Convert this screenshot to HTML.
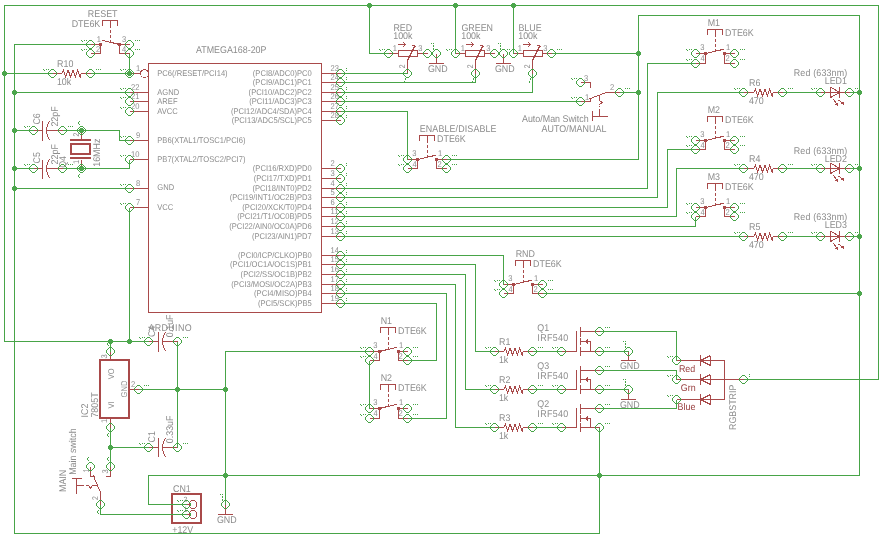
<!DOCTYPE html>
<html><head><meta charset="utf-8"><title>Schematic</title>
<style>
html,body{margin:0;padding:0;background:#fff;}
svg{display:block;font-family:"Liberation Sans",sans-serif;}
</style></head><body>
<svg width="880" height="537" viewBox="0 0 880 537">
<rect width="880" height="537" fill="#fff"/>
<g fill="#8c8c8c" stroke="none" opacity="0.999" style="text-rendering:geometricPrecision">
<text font-size="8.34" transform="translate(157.3 76.1) scale(0.91 1)">PC6(/RESET/PCI14)</text>
<text font-size="8.34" transform="translate(136.0 70.9) scale(0.91 1)">1</text>
<text font-size="8.34" transform="translate(157.3 95.1) scale(0.91 1)">AGND</text>
<text font-size="8.34" transform="translate(131.0 89.9) scale(0.91 1)">22</text>
<text font-size="8.34" transform="translate(157.3 104.1) scale(0.91 1)">AREF</text>
<text font-size="8.34" transform="translate(131.0 98.9) scale(0.91 1)">21</text>
<text font-size="8.34" transform="translate(157.3 114.1) scale(0.91 1)">AVCC</text>
<text font-size="8.34" transform="translate(131.0 108.9) scale(0.91 1)">20</text>
<text font-size="8.34" transform="translate(157.3 143.1) scale(0.91 1)">PB6(XTAL1/TOSC1/PCI6)</text>
<text font-size="8.34" transform="translate(136.0 137.9) scale(0.91 1)">9</text>
<text font-size="8.34" transform="translate(157.3 162.1) scale(0.91 1)">PB7(XTAL2/TOSC2/PCI7)</text>
<text font-size="8.34" transform="translate(131.0 156.9) scale(0.91 1)">10</text>
<text font-size="8.34" transform="translate(157.3 189.9) scale(0.91 1)">GND</text>
<text font-size="8.34" transform="translate(136.0 185.9) scale(0.91 1)">8</text>
<text font-size="8.34" transform="translate(157.3 210.1) scale(0.91 1)">VCC</text>
<text font-size="8.34" transform="translate(136.0 204.9) scale(0.91 1)">7</text>
<text font-size="8.34" transform="translate(311.8 76.1) scale(0.91 1)" text-anchor="end">(PCI8/ADC0)PC0</text>
<text font-size="8.34" transform="translate(330.5 71.1) scale(0.91 1)">23</text>
<text font-size="8.34" transform="translate(311.8 85.1) scale(0.91 1)" text-anchor="end">(PCI9/ADC1)PC1</text>
<text font-size="8.34" transform="translate(330.5 80.1) scale(0.91 1)">24</text>
<text font-size="8.34" transform="translate(311.8 95.1) scale(0.91 1)" text-anchor="end">(PCI10/ADC2)PC2</text>
<text font-size="8.34" transform="translate(330.5 90.1) scale(0.91 1)">25</text>
<text font-size="8.34" transform="translate(311.8 104.1) scale(0.91 1)" text-anchor="end">(PCI11/ADC3)PC3</text>
<text font-size="8.34" transform="translate(330.5 99.1) scale(0.91 1)">26</text>
<text font-size="8.34" transform="translate(311.8 114.1) scale(0.91 1)" text-anchor="end">(PCI12/ADC4/SDA)PC4</text>
<text font-size="8.34" transform="translate(330.5 109.1) scale(0.91 1)">27</text>
<text font-size="8.34" transform="translate(311.8 123.1) scale(0.91 1)" text-anchor="end">(PCI13/ADC5/SCL)PC5</text>
<text font-size="8.34" transform="translate(330.5 118.1) scale(0.91 1)">28</text>
<text font-size="8.34" transform="translate(311.8 171.1) scale(0.91 1)" text-anchor="end">(PCI16/RXD)PD0</text>
<text font-size="8.34" transform="translate(330.5 166.1) scale(0.91 1)">2</text>
<text font-size="8.34" transform="translate(311.8 181.1) scale(0.91 1)" text-anchor="end">(PCI17/TXD)PD1</text>
<text font-size="8.34" transform="translate(330.5 176.1) scale(0.91 1)">3</text>
<text font-size="8.34" transform="translate(311.8 191.1) scale(0.91 1)" text-anchor="end">(PCI18/INT0)PD2</text>
<text font-size="8.34" transform="translate(330.5 186.1) scale(0.91 1)">4</text>
<text font-size="8.34" transform="translate(311.8 200.1) scale(0.91 1)" text-anchor="end">(PCI19/INT1/OC2B)PD3</text>
<text font-size="8.34" transform="translate(330.5 195.1) scale(0.91 1)">5</text>
<text font-size="8.34" transform="translate(311.8 210.1) scale(0.91 1)" text-anchor="end">(PCI20/XCK/T0)PD4</text>
<text font-size="8.34" transform="translate(330.5 205.1) scale(0.91 1)">6</text>
<text font-size="8.34" transform="translate(311.8 219.1) scale(0.91 1)" text-anchor="end">(PCI21/T1/OC0B)PD5</text>
<text font-size="8.34" transform="translate(330.5 214.1) scale(0.91 1)">11</text>
<text font-size="8.34" transform="translate(311.8 229.1) scale(0.91 1)" text-anchor="end">(PCI22/AIN0/OC0A)PD6</text>
<text font-size="8.34" transform="translate(330.5 224.1) scale(0.91 1)">12</text>
<text font-size="8.34" transform="translate(311.8 239.1) scale(0.91 1)" text-anchor="end">(PCI23/AIN1)PD7</text>
<text font-size="8.34" transform="translate(330.5 234.1) scale(0.91 1)">13</text>
<text font-size="8.34" transform="translate(311.8 258.1) scale(0.91 1)" text-anchor="end">(PCI0/ICP/CLKO)PB0</text>
<text font-size="8.34" transform="translate(330.5 253.1) scale(0.91 1)">14</text>
<text font-size="8.34" transform="translate(311.8 267.1) scale(0.91 1)" text-anchor="end">(PCI1/OC1A/OC1S)PB1</text>
<text font-size="8.34" transform="translate(330.5 262.1) scale(0.91 1)">15</text>
<text font-size="8.34" transform="translate(311.8 277.1) scale(0.91 1)" text-anchor="end">(PCI2/SS/OC1B)PB2</text>
<text font-size="8.34" transform="translate(330.5 272.1) scale(0.91 1)">16</text>
<text font-size="8.34" transform="translate(311.8 287.1) scale(0.91 1)" text-anchor="end">(PCI3/MOSI/OC2A)PB3</text>
<text font-size="8.34" transform="translate(330.5 282.1) scale(0.91 1)">17</text>
<text font-size="8.34" transform="translate(311.8 296.1) scale(0.91 1)" text-anchor="end">(PCI4/MISO)PB4</text>
<text font-size="8.34" transform="translate(330.5 291.1) scale(0.91 1)">18</text>
<text font-size="8.34" transform="translate(311.8 306.1) scale(0.91 1)" text-anchor="end">(PCI5/SCK)PB5</text>
<text font-size="8.34" transform="translate(330.5 301.1) scale(0.91 1)">19</text>
<text font-size="9.77" transform="translate(196.0 52.8) scale(0.91 1)">ATMEGA168-20P</text>
<text font-size="9.77" transform="translate(148.4 330.8) scale(0.91 1)" letter-spacing="0.42">ARDUINO</text>
<text font-size="9.77" transform="translate(117.5 17.1) scale(0.91 1)" text-anchor="end">RESET</text>
<text font-size="9.77" transform="translate(100.3 27.1) scale(0.91 1)" text-anchor="end">DTE6K</text>
<text font-size="8.34" transform="translate(96.7 41.7) scale(0.91 1)">1</text>
<text font-size="8.34" transform="translate(96.1 52.1) scale(0.91 1)">2</text>
<text font-size="8.34" transform="translate(121.9 41.7) scale(0.91 1)">3</text>
<text font-size="8.34" transform="translate(121.9 52.1) scale(0.91 1)">4</text>
<text font-size="9.77" transform="translate(57.1 66.7) scale(0.91 1)">R10</text>
<text font-size="9.77" transform="translate(56.9 85.3) scale(0.91 1)">10k</text>
<text font-size="9.77" transform="translate(39.8 124.6) rotate(-90) scale(0.91 1)">C6</text>
<text font-size="9.77" transform="translate(58.1 126.6) rotate(-90) scale(0.91 1)">22pF</text>
<text font-size="9.77" transform="translate(39.8 163.4) rotate(-90) scale(0.91 1)">C5</text>
<text font-size="9.77" transform="translate(58.1 164.4) rotate(-90) scale(0.91 1)">22pF</text>
<text font-size="8.34" transform="translate(78.6 136.8) rotate(-90) scale(0.91 1)">2</text>
<text font-size="8.34" transform="translate(78.6 164.0) rotate(-90) scale(0.91 1)">1</text>
<text font-size="9.77" transform="translate(99.8 166.8) rotate(-90) scale(0.91 1)">16MHz</text>
<text font-size="9.77" transform="translate(66.0 167.8) rotate(-90) scale(0.91 1)">Q4</text>
<text font-size="9.77" transform="translate(154.8 337.0) rotate(-90) scale(0.91 1)">C4</text>
<text font-size="9.77" transform="translate(173.1 337.2) rotate(-90) scale(0.91 1)">0.1uF</text>
<text font-size="8.34" transform="translate(113.6 379.2) rotate(-90) scale(0.91 1)">VO</text>
<text font-size="8.34" transform="translate(113.6 408.6) rotate(-90) scale(0.91 1)">VI</text>
<text font-size="8.34" transform="translate(127.0 397.4) rotate(-90) scale(0.91 1)">GND</text>
<text font-size="9.77" transform="translate(88.0 417.4) rotate(-90) scale(0.91 1)">IC2</text>
<text font-size="9.77" transform="translate(97.6 417.6) rotate(-90) scale(0.91 1)">7805T</text>
<text font-size="8.34" transform="translate(107.4 358.6) rotate(-90) scale(0.91 1)">3</text>
<text font-size="8.34" transform="translate(107.4 423.0) rotate(-90) scale(0.91 1)">1</text>
<text font-size="8.34" transform="translate(131.0 387.2) scale(0.91 1)">2</text>
<text font-size="9.77" transform="translate(154.8 442.4) rotate(-90) scale(0.91 1)">C1</text>
<text font-size="9.77" transform="translate(173.1 443.2) rotate(-90) scale(0.91 1)">0.33uF</text>
<text font-size="9.77" transform="translate(65.8 492.0) rotate(-90) scale(0.91 1)">MAIN</text>
<text font-size="9.77" transform="translate(76.0 474.8) rotate(-90) scale(0.91 1)">Main switch</text>
<text font-size="8.34" transform="translate(89.4 472.4) rotate(-90) scale(0.91 1)">1</text>
<text font-size="8.34" transform="translate(98.2 500.2) rotate(-90) scale(0.91 1)">2</text>
<text font-size="8.34" transform="translate(107.6 473.6) rotate(-90) scale(0.91 1)">3</text>
<text font-size="9.77" transform="translate(173.0 491.7) scale(0.91 1)">CN1</text>
<text font-size="9.77" transform="translate(172.2 532.5) scale(0.91 1)">+12V</text>
<text font-size="7.69" transform="translate(183.4 501.8) scale(0.91 1)">2</text>
<text font-size="7.69" transform="translate(183.4 512.0) scale(0.91 1)">1</text>
<text font-size="9.77" transform="translate(216.9 522.7) scale(0.91 1)">GND</text>
<text font-size="9.77" transform="translate(380.7 324.3) scale(0.91 1)">N1</text>
<text font-size="9.77" transform="translate(398.1 334.3) scale(0.91 1)">DTE6K</text>
<text font-size="8.34" transform="translate(373.2 348.3) scale(0.91 1)">3</text>
<text font-size="8.34" transform="translate(373.5 359.3) scale(0.91 1)">4</text>
<text font-size="8.34" transform="translate(399.1 348.3) scale(0.91 1)">1</text>
<text font-size="8.34" transform="translate(398.5 359.3) scale(0.91 1)">2</text>
<text font-size="9.77" transform="translate(380.7 381.3) scale(0.91 1)">N2</text>
<text font-size="9.77" transform="translate(398.1 391.3) scale(0.91 1)">DTE6K</text>
<text font-size="8.34" transform="translate(373.2 405.3) scale(0.91 1)">3</text>
<text font-size="8.34" transform="translate(373.5 416.3) scale(0.91 1)">4</text>
<text font-size="8.34" transform="translate(399.1 405.3) scale(0.91 1)">1</text>
<text font-size="8.34" transform="translate(398.5 416.3) scale(0.91 1)">2</text>
<text font-size="9.77" transform="translate(515.7 257.3) scale(0.91 1)">RND</text>
<text font-size="9.77" transform="translate(533.1 267.3) scale(0.91 1)">DTE6K</text>
<text font-size="8.34" transform="translate(508.2 281.3) scale(0.91 1)">3</text>
<text font-size="8.34" transform="translate(508.5 292.3) scale(0.91 1)">4</text>
<text font-size="8.34" transform="translate(534.1 281.3) scale(0.91 1)">1</text>
<text font-size="8.34" transform="translate(533.5 292.3) scale(0.91 1)">2</text>
<text font-size="9.77" transform="translate(499.1 344.7) scale(0.91 1)">R1</text>
<text font-size="9.77" transform="translate(498.9 363.3) scale(0.91 1)">1k</text>
<text font-size="9.77" transform="translate(537.3 331.0) scale(0.91 1)">Q1</text>
<text font-size="9.77" transform="translate(537.3 341.1) scale(0.91 1)" letter-spacing="0.4">IRF540</text>
<text font-size="9.77" transform="translate(499.1 382.7) scale(0.91 1)">R2</text>
<text font-size="9.77" transform="translate(498.9 401.3) scale(0.91 1)">1k</text>
<text font-size="9.77" transform="translate(537.3 369.0) scale(0.91 1)">Q3</text>
<text font-size="9.77" transform="translate(537.3 379.1) scale(0.91 1)" letter-spacing="0.4">IRF540</text>
<text font-size="9.77" transform="translate(499.1 420.7) scale(0.91 1)">R3</text>
<text font-size="9.77" transform="translate(498.9 439.3) scale(0.91 1)">1k</text>
<text font-size="9.77" transform="translate(537.3 407.0) scale(0.91 1)">Q2</text>
<text font-size="9.77" transform="translate(537.3 417.1) scale(0.91 1)" letter-spacing="0.4">IRF540</text>
<text font-size="9.77" transform="translate(619.9 368.7) scale(0.91 1)">GND</text>
<text font-size="9.77" transform="translate(619.9 407.7) scale(0.91 1)">GND</text>
<text font-size="9.77" transform="translate(678.9 371.5) scale(0.91 1)" fill="#963c3c">Red</text>
<text font-size="9.77" transform="translate(680.8 390.5) scale(0.91 1)" fill="#963c3c">Grn</text>
<text font-size="9.77" transform="translate(677.6 409.9) scale(0.91 1)" fill="#963c3c">Blue</text>
<text font-size="9.77" transform="translate(736.0 430.0) rotate(-90) scale(0.91 1)">RGBSTRIP</text>
<text font-size="9.77" transform="translate(393.4 30.5) scale(0.91 1)">RED</text>
<text font-size="9.77" transform="translate(393.2 38.5) scale(0.91 1)">100k</text>
<text font-size="8.34" transform="translate(392.7 51.4) scale(0.91 1)">1</text>
<text font-size="8.34" transform="translate(418.3 51.4) scale(0.91 1)">3</text>
<text font-size="8.34" transform="translate(405.3 68.5) rotate(-90) scale(0.91 1)">2</text>
<text font-size="9.77" transform="translate(461.4 30.5) scale(0.91 1)">GREEN</text>
<text font-size="9.77" transform="translate(461.2 38.5) scale(0.91 1)">100k</text>
<text font-size="8.34" transform="translate(460.7 51.4) scale(0.91 1)">1</text>
<text font-size="8.34" transform="translate(486.3 51.4) scale(0.91 1)">3</text>
<text font-size="8.34" transform="translate(473.3 68.5) rotate(-90) scale(0.91 1)">2</text>
<text font-size="9.77" transform="translate(518.4 30.5) scale(0.91 1)">BLUE</text>
<text font-size="9.77" transform="translate(518.2 38.5) scale(0.91 1)">100k</text>
<text font-size="8.34" transform="translate(517.7 51.4) scale(0.91 1)">1</text>
<text font-size="8.34" transform="translate(543.3 51.4) scale(0.91 1)">3</text>
<text font-size="8.34" transform="translate(530.3 68.5) rotate(-90) scale(0.91 1)">2</text>
<text font-size="9.77" transform="translate(427.9 71.7) scale(0.91 1)">GND</text>
<text font-size="9.77" transform="translate(494.9 71.7) scale(0.91 1)">GND</text>
<text font-size="9.77" transform="translate(419.7 132.3) scale(0.91 1)" letter-spacing="0.15">ENABLE/DISABLE</text>
<text font-size="9.77" transform="translate(437.1 142.3) scale(0.91 1)">DTE6K</text>
<text font-size="8.34" transform="translate(412.2 156.3) scale(0.91 1)">3</text>
<text font-size="8.34" transform="translate(412.5 167.3) scale(0.91 1)">4</text>
<text font-size="8.34" transform="translate(438.1 156.3) scale(0.91 1)">1</text>
<text font-size="8.34" transform="translate(437.5 167.3) scale(0.91 1)">2</text>
<text font-size="9.77" transform="translate(522.0 122.4) scale(0.91 1)">Auto/Man Switch</text>
<text font-size="9.77" transform="translate(541.4 131.5) scale(0.91 1)" letter-spacing="0.12">AUTO/MANUAL</text>
<text font-size="8.34" transform="translate(584.0 81.2) scale(0.91 1)">3</text>
<text font-size="8.34" transform="translate(585.0 100.1) scale(0.91 1)">1</text>
<text font-size="8.34" transform="translate(610.0 90.0) scale(0.91 1)">2</text>
<text font-size="9.77" transform="translate(707.7 26.3) scale(0.91 1)">M1</text>
<text font-size="9.77" transform="translate(725.1 36.3) scale(0.91 1)">DTE6K</text>
<text font-size="8.34" transform="translate(700.2 50.3) scale(0.91 1)">3</text>
<text font-size="8.34" transform="translate(700.5 61.3) scale(0.91 1)">4</text>
<text font-size="8.34" transform="translate(726.1 50.3) scale(0.91 1)">1</text>
<text font-size="8.34" transform="translate(725.5 61.3) scale(0.91 1)">2</text>
<text font-size="9.77" transform="translate(749.1 85.7) scale(0.91 1)">R6</text>
<text font-size="9.77" transform="translate(748.9 104.3) scale(0.91 1)">470</text>
<text font-size="9.77" transform="translate(793.8 75.9) scale(0.91 1)" letter-spacing="0.17">Red (633nm)</text>
<text font-size="9.77" transform="translate(824.7 84.2) scale(0.91 1)">LED1</text>
<text font-size="9.77" transform="translate(707.7 113.3) scale(0.91 1)">M2</text>
<text font-size="9.77" transform="translate(725.1 123.3) scale(0.91 1)">DTE6K</text>
<text font-size="8.34" transform="translate(700.2 137.3) scale(0.91 1)">3</text>
<text font-size="8.34" transform="translate(700.5 148.3) scale(0.91 1)">4</text>
<text font-size="8.34" transform="translate(726.1 137.3) scale(0.91 1)">1</text>
<text font-size="8.34" transform="translate(725.5 148.3) scale(0.91 1)">2</text>
<text font-size="9.77" transform="translate(749.1 161.7) scale(0.91 1)">R4</text>
<text font-size="9.77" transform="translate(748.9 180.3) scale(0.91 1)">470</text>
<text font-size="9.77" transform="translate(793.8 153.5) scale(0.91 1)" letter-spacing="0.17">Red (633nm)</text>
<text font-size="9.77" transform="translate(824.7 161.8) scale(0.91 1)">LED2</text>
<text font-size="9.77" transform="translate(707.7 180.3) scale(0.91 1)">M3</text>
<text font-size="9.77" transform="translate(725.1 190.3) scale(0.91 1)">DTE6K</text>
<text font-size="8.34" transform="translate(700.2 204.3) scale(0.91 1)">3</text>
<text font-size="8.34" transform="translate(700.5 215.3) scale(0.91 1)">4</text>
<text font-size="8.34" transform="translate(726.1 204.3) scale(0.91 1)">1</text>
<text font-size="8.34" transform="translate(725.5 215.3) scale(0.91 1)">2</text>
<text font-size="9.77" transform="translate(749.1 229.7) scale(0.91 1)">R5</text>
<text font-size="9.77" transform="translate(748.9 248.3) scale(0.91 1)">470</text>
<text font-size="9.77" transform="translate(793.8 219.9) scale(0.91 1)" letter-spacing="0.17">Red (633nm)</text>
<text font-size="9.77" transform="translate(824.7 228.2) scale(0.91 1)">LED3</text>
</g>
<g shape-rendering="crispEdges">
<g fill="none" stroke="#a94a4a" stroke-width="1" stroke-linejoin="miter">
<rect x="148.5" y="63.5" width="173.00" height="249.00" fill="none"/>
<path d="M129.50 73.50L140.00 73.50"/>
<circle cx="144.50" cy="73.5" r="4" fill="none"/>
<path d="M129.50 92.50L148.50 92.50"/>
<path d="M129.50 101.50L148.50 101.50"/>
<path d="M129.50 111.50L148.50 111.50"/>
<path d="M129.50 140.50L148.50 140.50"/>
<path d="M129.50 159.50L148.50 159.50"/>
<path d="M129.50 188.50L148.50 188.50"/>
<path d="M129.50 207.50L148.50 207.50"/>
<path d="M321.50 73.50L340.50 73.50"/>
<path d="M321.50 82.50L340.50 82.50"/>
<path d="M321.50 92.50L340.50 92.50"/>
<path d="M321.50 101.50L340.50 101.50"/>
<path d="M321.50 111.50L340.50 111.50"/>
<path d="M321.50 120.50L340.50 120.50"/>
<path d="M321.50 168.50L340.50 168.50"/>
<path d="M321.50 178.50L340.50 178.50"/>
<path d="M321.50 188.50L340.50 188.50"/>
<path d="M321.50 197.50L340.50 197.50"/>
<path d="M321.50 207.50L340.50 207.50"/>
<path d="M321.50 216.50L340.50 216.50"/>
<path d="M321.50 226.50L340.50 226.50"/>
<path d="M321.50 236.50L340.50 236.50"/>
<path d="M321.50 255.50L340.50 255.50"/>
<path d="M321.50 264.50L340.50 264.50"/>
<path d="M321.50 274.50L340.50 274.50"/>
<path d="M321.50 284.50L340.50 284.50"/>
<path d="M321.50 293.50L340.50 293.50"/>
<path d="M321.50 303.50L340.50 303.50"/>
<path d="M90.50 44.50 L100.50 44.50 L100.50 53.50 L90.50 53.50" />
<rect x="99.0" y="43.0" width="3" height="3" fill="#a94a4a" stroke="none"/>
<path d="M129.50 44.50 L119.50 44.50 L119.50 53.50 L129.50 53.50" />
<rect x="118.0" y="43.0" width="3" height="3" fill="#a94a4a" stroke="none"/>
<path d="M119.50 44.50L102.50 40.30"/>
<path d="M102.50 25.50 L102.50 20.50 L117.50 20.50 L117.50 25.50" />
<path d="M110.50 20.50L110.50 28.00"/>
<path d="M110.50 29.50L110.50 42.00" stroke-dasharray="3.5 1.5"/>
<path d="M52.50 73.50 L61.90 73.50 L63.34 69.99 L65.74 77.01 L68.14 69.99 L70.54 77.01 L72.94 69.99 L75.34 77.01 L77.74 69.99 L80.14 77.01 L81.10 73.50 L90.50 73.50" />
<path d="M33.50 130.50L42.50 130.50"/>
<path d="M42.50 120.50L42.50 140.50"/>
<path d="M49.50 121.00Q43.30 130.50 49.50 140.00" />
<path d="M46.50 130.50L62.50 130.50"/>
<path d="M33.50 168.50L42.50 168.50"/>
<path d="M42.50 159.50L42.50 178.50"/>
<path d="M49.50 159.00Q43.30 168.50 49.50 178.00" />
<path d="M46.50 168.50L62.50 168.50"/>
<path d="M81.50 130.50L81.50 140.50"/>
<path d="M81.50 159.50L81.50 168.50"/>
<path d="M70.0 140.0H91.0M70.0 158.0H91.0" stroke-width="2"/>
<rect x="71.0" y="144.0" width="19" height="10" fill="none" stroke-width="2"/>
<path d="M148.50 341.50L158.50 341.50"/>
<path d="M158.50 331.50L158.50 351.50"/>
<path d="M165.50 332.00Q159.30 341.50 165.50 351.00" />
<path d="M162.50 341.50L177.50 341.50"/>
<path d="M110.50 351.50L110.50 360.50"/>
<path d="M110.50 418.50L110.50 427.50"/>
<path d="M129.50 389.50L138.50 389.50"/>
<path d="M148.50 447.50L158.50 447.50"/>
<path d="M158.50 437.50L158.50 456.50"/>
<path d="M165.50 438.00Q159.30 447.50 165.50 457.00" />
<path d="M162.50 447.50L177.50 447.50"/>
<path d="M110.50 466.50 L110.50 476.50 L105.50 476.50" />
<path d="M90.50 466.50 L90.50 476.50 L94.50 476.50" />
<path d="M93.00 475.00 L100.50 492.50 L100.50 504.50" />
<path d="M98.00 485.50 L93.00 485.50" />
<path d="M92.50 485.50 L90.50 488.00 L88.50 485.50" />
<path d="M87.50 485.50 L86.00 485.50" />
<path d="M84.00 485.50 L76.50 485.50" />
<path d="M76.50 478.50 L76.50 494.00" />
<path d="M82.00 478.50 L72.00 478.50" />
<circle cx="193.00" cy="504.5" r="4" fill="none"/>
<path d="M186.50 504.50L189.90 504.50"/>
<circle cx="193.00" cy="514.5" r="4" fill="none"/>
<path d="M186.50 514.50L189.90 514.50"/>
<path d="M225.50 504.50L225.50 514.50"/>
<path d="M218.00 514.50L233.00 514.50"/>
<path d="M369.50 351.50 L379.50 351.50 L379.50 360.50 L369.50 360.50" />
<rect x="378.0" y="350.0" width="3" height="3" fill="#a94a4a" stroke="none"/>
<path d="M407.50 351.50 L398.50 351.50 L398.50 360.50 L407.50 360.50" />
<rect x="397.0" y="350.0" width="3" height="3" fill="#a94a4a" stroke="none"/>
<path d="M379.50 351.50L396.50 347.30"/>
<path d="M380.50 332.50 L380.50 327.50 L395.50 327.50 L395.50 332.50" />
<path d="M388.50 327.50L388.50 335.00"/>
<path d="M388.50 336.50L388.50 349.00" stroke-dasharray="3.5 1.5"/>
<path d="M369.50 408.50 L379.50 408.50 L379.50 418.50 L369.50 418.50" />
<rect x="378.0" y="407.0" width="3" height="3" fill="#a94a4a" stroke="none"/>
<path d="M407.50 408.50 L398.50 408.50 L398.50 418.50 L407.50 418.50" />
<rect x="397.0" y="407.0" width="3" height="3" fill="#a94a4a" stroke="none"/>
<path d="M379.50 408.50L396.50 404.30"/>
<path d="M380.50 389.50 L380.50 384.50 L395.50 384.50 L395.50 389.50" />
<path d="M388.50 384.50L388.50 392.00"/>
<path d="M388.50 393.50L388.50 406.00" stroke-dasharray="3.5 1.5"/>
<path d="M503.50 284.50 L513.50 284.50 L513.50 293.50 L503.50 293.50" />
<rect x="512.0" y="283.0" width="3" height="3" fill="#a94a4a" stroke="none"/>
<path d="M542.50 284.50 L532.50 284.50 L532.50 293.50 L542.50 293.50" />
<rect x="531.0" y="283.0" width="3" height="3" fill="#a94a4a" stroke="none"/>
<path d="M513.50 284.50L531.50 280.30"/>
<path d="M515.50 265.50 L515.50 260.50 L530.50 260.50 L530.50 265.50" />
<path d="M523.50 260.50L523.50 268.00"/>
<path d="M523.50 269.50L523.50 282.00" stroke-dasharray="3.5 1.5"/>
<path d="M494.50 351.50 L503.90 351.50 L505.34 347.99 L507.74 355.01 L510.14 347.99 L512.54 355.01 L514.94 347.99 L517.34 355.01 L519.74 347.99 L522.14 355.01 L523.10 351.50 L532.50 351.50" />
<path d="M561.50 351.50L576.50 351.50"/>
<path d="M576.50 331.00L576.50 352.00"/>
<path d="M580.50 327.00L580.50 336.50"/>
<path d="M580.50 338.00L580.50 345.00"/>
<path d="M580.50 347.00L580.50 356.00"/>
<path d="M580.50 331.50L599.50 331.50"/>
<path d="M580.50 351.50L599.50 351.50"/>
<path d="M580.50 341.50 L590.50 341.50 L590.50 351.50" />
<path d="M584.50 341.50L588.00 339.00L588.00 344.00Z" fill="#a94a4a" stroke="none"/>
<path d="M494.50 389.50 L503.90 389.50 L505.34 385.99 L507.74 393.01 L510.14 385.99 L512.54 393.01 L514.94 385.99 L517.34 393.01 L519.74 385.99 L522.14 393.01 L523.10 389.50 L532.50 389.50" />
<path d="M561.50 389.50L576.50 389.50"/>
<path d="M576.50 370.00L576.50 390.00"/>
<path d="M580.50 366.00L580.50 375.50"/>
<path d="M580.50 376.00L580.50 383.00"/>
<path d="M580.50 385.00L580.50 394.00"/>
<path d="M580.50 370.50L599.50 370.50"/>
<path d="M580.50 389.50L599.50 389.50"/>
<path d="M580.50 379.50 L590.50 379.50 L590.50 389.50" />
<path d="M584.50 379.50L588.00 377.00L588.00 382.00Z" fill="#a94a4a" stroke="none"/>
<path d="M494.50 427.50 L503.90 427.50 L505.34 423.99 L507.74 431.01 L510.14 423.99 L512.54 431.01 L514.94 423.99 L517.34 431.01 L519.74 423.99 L522.14 431.01 L523.10 427.50 L532.50 427.50" />
<path d="M561.50 427.50L576.50 427.50"/>
<path d="M576.50 408.00L576.50 428.00"/>
<path d="M580.50 404.00L580.50 413.50"/>
<path d="M580.50 415.00L580.50 422.00"/>
<path d="M580.50 423.00L580.50 432.00"/>
<path d="M580.50 408.50L599.50 408.50"/>
<path d="M580.50 427.50L599.50 427.50"/>
<path d="M580.50 418.50 L590.50 418.50 L590.50 427.50" />
<path d="M584.50 418.50L588.00 416.00L588.00 421.00Z" fill="#a94a4a" stroke="none"/>
<path d="M628.50 351.50L628.50 360.50"/>
<path d="M621.00 360.50L636.00 360.50"/>
<path d="M628.50 389.50L628.50 399.50"/>
<path d="M621.00 399.50L636.00 399.50"/>
<path d="M676.50 360.50L724.50 360.50"/>
<path d="M710.50 355.50 L700.50 360.50 L710.50 365.50 L710.50 355.50" />
<path d="M700.50 355.00L700.50 366.00"/>
<path d="M676.50 379.50L743.50 379.50"/>
<path d="M710.50 374.50 L700.50 379.50 L710.50 384.50 L710.50 374.50" />
<path d="M700.50 374.00L700.50 385.00"/>
<path d="M676.50 399.50L724.50 399.50"/>
<path d="M710.50 394.50 L700.50 399.50 L710.50 404.50 L710.50 394.50" />
<path d="M700.50 394.00L700.50 405.00"/>
<path d="M724.50 360.50L724.50 399.50"/>
<path d="M388.50 53.50L398.50 53.50"/>
<path d="M417.50 53.50L427.50 53.50"/>
<rect x="398.50" y="50.50" width="19.00" height="6" fill="none"/>
<path d="M407.50 73.50 L407.50 60.50 L414.50 46.50" />
<path d="M412.00 45.50 L414.50 46.00 L416.50 47.50" />
<path d="M397.50 44.50L406.00 44.50"/>
<path d="M403.00 42.00 L405.50 44.50 L403.00 47.00" />
<path d="M455.50 53.50L465.50 53.50"/>
<path d="M484.50 53.50L494.50 53.50"/>
<rect x="465.50" y="50.50" width="19.00" height="6" fill="none"/>
<path d="M475.50 73.50 L475.50 60.50 L482.50 46.50" />
<path d="M480.00 45.50 L482.50 46.00 L484.50 47.50" />
<path d="M465.50 44.50L474.00 44.50"/>
<path d="M471.00 42.00 L473.50 44.50 L471.00 47.00" />
<path d="M513.50 53.50L523.50 53.50"/>
<path d="M542.50 53.50L551.50 53.50"/>
<rect x="523.50" y="50.50" width="19.00" height="6" fill="none"/>
<path d="M532.50 73.50 L532.50 60.50 L539.50 46.50" />
<path d="M537.00 45.50 L539.50 46.00 L541.50 47.50" />
<path d="M522.50 44.50L531.00 44.50"/>
<path d="M528.00 42.00 L530.50 44.50 L528.00 47.00" />
<path d="M436.50 53.50L436.50 63.50"/>
<path d="M429.00 63.50L444.00 63.50"/>
<path d="M503.50 53.50L503.50 63.50"/>
<path d="M496.00 63.50L511.00 63.50"/>
<path d="M407.50 159.50 L417.50 159.50 L417.50 168.50 L407.50 168.50" />
<rect x="416.0" y="158.0" width="3" height="3" fill="#a94a4a" stroke="none"/>
<path d="M446.50 159.50 L436.50 159.50 L436.50 168.50 L446.50 168.50" />
<rect x="435.0" y="158.0" width="3" height="3" fill="#a94a4a" stroke="none"/>
<path d="M417.50 159.50L435.50 155.30"/>
<path d="M419.50 140.50 L419.50 135.50 L434.50 135.50 L434.50 140.50" />
<path d="M427.50 135.50L427.50 143.00"/>
<path d="M427.50 144.50L427.50 157.00" stroke-dasharray="3.5 1.5"/>
<path d="M580.50 82.50 L590.50 82.50 L590.50 87.50" />
<path d="M580.50 101.50 L590.50 101.50 L590.50 97.50" />
<path d="M589.00 99.00 L606.50 92.50 L619.50 92.50" />
<path d="M599.50 95.00 L599.50 100.00" />
<path d="M599.50 100.50 L602.00 102.50 L599.50 104.50" />
<path d="M599.50 105.50 L599.50 107.00" />
<path d="M599.50 109.00 L599.50 116.50" />
<path d="M592.50 116.50 L608.00 116.50" />
<path d="M592.50 111.00 L592.50 121.00" />
<path d="M695.50 53.50 L705.50 53.50 L705.50 63.50 L695.50 63.50" />
<rect x="704.0" y="52.0" width="3" height="3" fill="#a94a4a" stroke="none"/>
<path d="M734.50 53.50 L724.50 53.50 L724.50 63.50 L734.50 63.50" />
<rect x="723.0" y="52.0" width="3" height="3" fill="#a94a4a" stroke="none"/>
<path d="M705.50 53.50L723.50 49.30"/>
<path d="M707.50 34.50 L707.50 29.50 L722.50 29.50 L722.50 34.50" />
<path d="M715.50 29.50L715.50 37.00"/>
<path d="M715.50 38.50L715.50 51.00" stroke-dasharray="3.5 1.5"/>
<path d="M743.50 92.50 L753.90 92.50 L755.34 88.99 L757.74 96.01 L760.14 88.99 L762.54 96.01 L764.94 88.99 L767.34 96.01 L769.74 88.99 L772.14 96.01 L773.10 92.50 L782.50 92.50" />
<path d="M820.50 92.50L849.50 92.50"/>
<path d="M830.50 87.00 L839.50 92.50 L830.50 97.50 L830.50 87.00" />
<path d="M839.50 86.50L839.50 98.00"/>
<path d="M833.50 99.50L838.00 105.50"/>
<path d="M838.50 106.00L834.50 104.50L837.00 102.00Z" fill="#a94a4a" stroke="none"/>
<path d="M838.50 100.00L844.00 104.50"/>
<path d="M844.50 105.00L840.50 103.50L843.00 101.00Z" fill="#a94a4a" stroke="none"/>
<path d="M695.50 140.50 L705.50 140.50 L705.50 149.50 L695.50 149.50" />
<rect x="704.0" y="139.0" width="3" height="3" fill="#a94a4a" stroke="none"/>
<path d="M734.50 140.50 L724.50 140.50 L724.50 149.50 L734.50 149.50" />
<rect x="723.0" y="139.0" width="3" height="3" fill="#a94a4a" stroke="none"/>
<path d="M705.50 140.50L723.50 136.30"/>
<path d="M707.50 121.50 L707.50 116.50 L722.50 116.50 L722.50 121.50" />
<path d="M715.50 116.50L715.50 124.00"/>
<path d="M715.50 125.50L715.50 138.00" stroke-dasharray="3.5 1.5"/>
<path d="M743.50 168.50 L753.90 168.50 L755.34 164.99 L757.74 172.01 L760.14 164.99 L762.54 172.01 L764.94 164.99 L767.34 172.01 L769.74 164.99 L772.14 172.01 L773.10 168.50 L782.50 168.50" />
<path d="M820.50 168.50L849.50 168.50"/>
<path d="M830.50 163.00 L839.50 168.50 L830.50 173.50 L830.50 163.00" />
<path d="M839.50 162.50L839.50 174.00"/>
<path d="M833.50 175.50L838.00 181.50"/>
<path d="M838.50 182.00L834.50 180.50L837.00 178.00Z" fill="#a94a4a" stroke="none"/>
<path d="M838.50 176.00L844.00 180.50"/>
<path d="M844.50 181.00L840.50 179.50L843.00 177.00Z" fill="#a94a4a" stroke="none"/>
<path d="M695.50 207.50 L705.50 207.50 L705.50 216.50 L695.50 216.50" />
<rect x="704.0" y="206.0" width="3" height="3" fill="#a94a4a" stroke="none"/>
<path d="M734.50 207.50 L724.50 207.50 L724.50 216.50 L734.50 216.50" />
<rect x="723.0" y="206.0" width="3" height="3" fill="#a94a4a" stroke="none"/>
<path d="M705.50 207.50L723.50 203.30"/>
<path d="M707.50 188.50 L707.50 183.50 L722.50 183.50 L722.50 188.50" />
<path d="M715.50 183.50L715.50 191.00"/>
<path d="M715.50 192.50L715.50 205.00" stroke-dasharray="3.5 1.5"/>
<path d="M743.50 236.50 L753.90 236.50 L755.34 232.99 L757.74 240.01 L760.14 232.99 L762.54 240.01 L764.94 232.99 L767.34 240.01 L769.74 232.99 L772.14 240.01 L773.10 236.50 L782.50 236.50" />
<path d="M820.50 236.50L849.50 236.50"/>
<path d="M830.50 231.00 L839.50 236.50 L830.50 241.50 L830.50 231.00" />
<path d="M839.50 230.50L839.50 242.00"/>
<path d="M833.50 243.50L838.00 249.50"/>
<path d="M838.50 250.00L834.50 248.50L837.00 246.00Z" fill="#a94a4a" stroke="none"/>
<path d="M838.50 244.00L844.00 248.50"/>
<path d="M844.50 249.00L840.50 247.50L843.00 245.00Z" fill="#a94a4a" stroke="none"/>
</g>
<g fill="none" stroke="#a94a4a" stroke-width="2" stroke-linecap="square">
<rect x="100.0" y="360.0" width="29.00" height="58.00" fill="none"/>
<rect x="172.0" y="494.00" width="29" height="29" fill="none"/>
</g>
<g fill="none" stroke="#47a447" stroke-width="1" stroke-linejoin="miter">
<path d="M4.5 341.5 L4.5 5.5 L878.5 5.5 L878.5 379.5 L743.5 379.5"/>
<path d="M4.5 341.5 L148.5 341.5"/>
<path d="M369.5 5.5 L369.5 53.5 L388.5 53.5"/>
<path d="M455.5 5.5 L455.5 53.5"/>
<path d="M513.5 5.5 L513.5 53.5"/>
<path d="M90.5 44.5 L14.5 44.5 L14.5 533.5 L599.5 533.5 L599.5 427.5"/>
<path d="M14.5 92.5 L129.5 92.5"/>
<path d="M14.5 130.5 L33.5 130.5"/>
<path d="M14.5 168.5 L33.5 168.5"/>
<path d="M14.5 188.5 L129.5 188.5"/>
<path d="M129.5 53.5 L129.5 73.5"/>
<path d="M4.5 73.5 L52.5 73.5"/>
<path d="M90.5 73.5 L129.5 73.5"/>
<path d="M62.5 130.5 L119.5 130.5 L119.5 140.5 L129.5 140.5"/>
<path d="M62.5 168.5 L129.5 168.5 L129.5 159.5"/>
<path d="M129.5 207.5 L129.5 341.5"/>
<path d="M177.5 341.5 L177.5 447.5"/>
<path d="M110.5 341.5 L110.5 351.5"/>
<path d="M138.5 389.5 L225.5 389.5"/>
<path d="M110.5 427.5 L110.5 466.5"/>
<path d="M110.5 447.5 L148.5 447.5"/>
<path d="M100.5 504.5 L100.5 514.5 L186.5 514.5"/>
<path d="M186.5 504.5 L148.5 504.5 L148.5 475.5 L859.5 475.5 L859.5 15.5 L638.5 15.5 L638.5 159.5 L446.5 159.5"/>
<path d="M225.5 504.5 L225.5 351.5 L369.5 351.5"/>
<path d="M369.5 360.5 L369.5 408.5"/>
<path d="M407.5 360.5 L436.5 360.5 L436.5 303.5 L340.5 303.5"/>
<path d="M407.5 418.5 L446.5 418.5 L446.5 293.5 L340.5 293.5"/>
<path d="M340.5 284.5 L455.5 284.5 L455.5 427.5 L494.5 427.5"/>
<path d="M340.5 274.5 L465.5 274.5 L465.5 389.5 L494.5 389.5"/>
<path d="M340.5 264.5 L475.5 264.5 L475.5 351.5 L494.5 351.5"/>
<path d="M340.5 255.5 L503.5 255.5 L503.5 284.5"/>
<path d="M542.5 293.5 L859.5 293.5"/>
<path d="M532.5 351.5 L561.5 351.5"/>
<path d="M532.5 389.5 L561.5 389.5"/>
<path d="M532.5 427.5 L561.5 427.5"/>
<path d="M599.5 351.5 L628.5 351.5"/>
<path d="M599.5 389.5 L628.5 389.5"/>
<path d="M599.5 331.5 L676.5 331.5 L676.5 360.5"/>
<path d="M599.5 370.5 L676.5 370.5 L676.5 379.5"/>
<path d="M599.5 408.5 L676.5 408.5 L676.5 399.5"/>
<path d="M340.5 73.5 L407.5 73.5"/>
<path d="M340.5 82.5 L475.5 82.5 L475.5 73.5"/>
<path d="M340.5 92.5 L532.5 92.5 L532.5 73.5"/>
<path d="M551.5 53.5 L638.5 53.5"/>
<path d="M340.5 101.5 L580.5 101.5"/>
<path d="M340.5 111.5 L407.5 111.5 L407.5 159.5"/>
<path d="M619.5 92.5 L638.5 92.5"/>
<path d="M782.5 92.5 L820.5 92.5"/>
<path d="M849.5 92.5 L859.5 92.5"/>
<path d="M782.5 168.5 L820.5 168.5"/>
<path d="M849.5 168.5 L859.5 168.5"/>
<path d="M782.5 236.5 L820.5 236.5"/>
<path d="M849.5 236.5 L859.5 236.5"/>
<path d="M340.5 188.5 L647.5 188.5 L647.5 63.5 L695.5 63.5"/>
<path d="M340.5 197.5 L657.5 197.5 L657.5 92.5 L743.5 92.5"/>
<path d="M340.5 207.5 L667.5 207.5 L667.5 149.5 L695.5 149.5"/>
<path d="M340.5 216.5 L676.5 216.5 L676.5 168.5 L743.5 168.5"/>
<path d="M340.5 226.5 L695.5 226.5 L695.5 216.5"/>
<path d="M340.5 236.5 L743.5 236.5"/>
</g>
<g fill="none" stroke="#47a447" stroke-width="1">
<path d="M128.5 69.5h2l3 3v2l-3 3h-2l-3 -3v-2z"/>
<path d="M128.5 88.5h2l3 3v2l-3 3h-2l-3 -3v-2z"/>
<path d="M128.5 97.5h2l3 3v2l-3 3h-2l-3 -3v-2z"/>
<path d="M128.5 107.5h2l3 3v2l-3 3h-2l-3 -3v-2z"/>
<path d="M128.5 136.5h2l3 3v2l-3 3h-2l-3 -3v-2z"/>
<path d="M128.5 155.5h2l3 3v2l-3 3h-2l-3 -3v-2z"/>
<path d="M128.5 184.5h2l3 3v2l-3 3h-2l-3 -3v-2z"/>
<path d="M128.5 203.5h2l3 3v2l-3 3h-2l-3 -3v-2z"/>
<path d="M339.5 69.5h2l3 3v2l-3 3h-2l-3 -3v-2z"/>
<path d="M339.5 78.5h2l3 3v2l-3 3h-2l-3 -3v-2z"/>
<path d="M339.5 88.5h2l3 3v2l-3 3h-2l-3 -3v-2z"/>
<path d="M339.5 97.5h2l3 3v2l-3 3h-2l-3 -3v-2z"/>
<path d="M339.5 107.5h2l3 3v2l-3 3h-2l-3 -3v-2z"/>
<path d="M339.5 116.5h2l3 3v2l-3 3h-2l-3 -3v-2z"/>
<path d="M339.5 164.5h2l3 3v2l-3 3h-2l-3 -3v-2z"/>
<path d="M339.5 174.5h2l3 3v2l-3 3h-2l-3 -3v-2z"/>
<path d="M339.5 184.5h2l3 3v2l-3 3h-2l-3 -3v-2z"/>
<path d="M339.5 193.5h2l3 3v2l-3 3h-2l-3 -3v-2z"/>
<path d="M339.5 203.5h2l3 3v2l-3 3h-2l-3 -3v-2z"/>
<path d="M339.5 212.5h2l3 3v2l-3 3h-2l-3 -3v-2z"/>
<path d="M339.5 222.5h2l3 3v2l-3 3h-2l-3 -3v-2z"/>
<path d="M339.5 232.5h2l3 3v2l-3 3h-2l-3 -3v-2z"/>
<path d="M339.5 251.5h2l3 3v2l-3 3h-2l-3 -3v-2z"/>
<path d="M339.5 260.5h2l3 3v2l-3 3h-2l-3 -3v-2z"/>
<path d="M339.5 270.5h2l3 3v2l-3 3h-2l-3 -3v-2z"/>
<path d="M339.5 280.5h2l3 3v2l-3 3h-2l-3 -3v-2z"/>
<path d="M339.5 289.5h2l3 3v2l-3 3h-2l-3 -3v-2z"/>
<path d="M339.5 299.5h2l3 3v2l-3 3h-2l-3 -3v-2z"/>
<path d="M89.5 40.5h2l3 3v2l-3 3h-2l-3 -3v-2z"/>
<path d="M89.5 49.5h2l3 3v2l-3 3h-2l-3 -3v-2z"/>
<path d="M128.5 40.5h2l3 3v2l-3 3h-2l-3 -3v-2z"/>
<path d="M128.5 49.5h2l3 3v2l-3 3h-2l-3 -3v-2z"/>
<path d="M51.5 69.5h2l3 3v2l-3 3h-2l-3 -3v-2z"/>
<path d="M89.5 69.5h2l3 3v2l-3 3h-2l-3 -3v-2z"/>
<path d="M32.5 126.5h2l3 3v2l-3 3h-2l-3 -3v-2z"/>
<path d="M61.5 126.5h2l3 3v2l-3 3h-2l-3 -3v-2z"/>
<path d="M32.5 164.5h2l3 3v2l-3 3h-2l-3 -3v-2z"/>
<path d="M61.5 164.5h2l3 3v2l-3 3h-2l-3 -3v-2z"/>
<path d="M80.5 126.5h2l3 3v2l-3 3h-2l-3 -3v-2z"/>
<path d="M80.5 164.5h2l3 3v2l-3 3h-2l-3 -3v-2z"/>
<path d="M147.5 337.5h2l3 3v2l-3 3h-2l-3 -3v-2z"/>
<path d="M176.5 337.5h2l3 3v2l-3 3h-2l-3 -3v-2z"/>
<path d="M109.5 347.5h2l3 3v2l-3 3h-2l-3 -3v-2z"/>
<path d="M109.5 423.5h2l3 3v2l-3 3h-2l-3 -3v-2z"/>
<path d="M137.5 385.5h2l3 3v2l-3 3h-2l-3 -3v-2z"/>
<path d="M147.5 443.5h2l3 3v2l-3 3h-2l-3 -3v-2z"/>
<path d="M176.5 443.5h2l3 3v2l-3 3h-2l-3 -3v-2z"/>
<path d="M89.5 462.5h2l3 3v2l-3 3h-2l-3 -3v-2z"/>
<path d="M109.5 462.5h2l3 3v2l-3 3h-2l-3 -3v-2z"/>
<path d="M99.5 500.5h2l3 3v2l-3 3h-2l-3 -3v-2z"/>
<path d="M185.5 500.5h2l3 3v2l-3 3h-2l-3 -3v-2z"/>
<path d="M185.5 510.5h2l3 3v2l-3 3h-2l-3 -3v-2z"/>
<path d="M224.5 500.5h2l3 3v2l-3 3h-2l-3 -3v-2z"/>
<path d="M368.5 347.5h2l3 3v2l-3 3h-2l-3 -3v-2z"/>
<path d="M368.5 356.5h2l3 3v2l-3 3h-2l-3 -3v-2z"/>
<path d="M406.5 347.5h2l3 3v2l-3 3h-2l-3 -3v-2z"/>
<path d="M406.5 356.5h2l3 3v2l-3 3h-2l-3 -3v-2z"/>
<path d="M368.5 404.5h2l3 3v2l-3 3h-2l-3 -3v-2z"/>
<path d="M368.5 414.5h2l3 3v2l-3 3h-2l-3 -3v-2z"/>
<path d="M406.5 404.5h2l3 3v2l-3 3h-2l-3 -3v-2z"/>
<path d="M406.5 414.5h2l3 3v2l-3 3h-2l-3 -3v-2z"/>
<path d="M502.5 280.5h2l3 3v2l-3 3h-2l-3 -3v-2z"/>
<path d="M502.5 289.5h2l3 3v2l-3 3h-2l-3 -3v-2z"/>
<path d="M541.5 280.5h2l3 3v2l-3 3h-2l-3 -3v-2z"/>
<path d="M541.5 289.5h2l3 3v2l-3 3h-2l-3 -3v-2z"/>
<path d="M493.5 347.5h2l3 3v2l-3 3h-2l-3 -3v-2z"/>
<path d="M531.5 347.5h2l3 3v2l-3 3h-2l-3 -3v-2z"/>
<path d="M560.5 347.5h2l3 3v2l-3 3h-2l-3 -3v-2z"/>
<path d="M598.5 327.5h2l3 3v2l-3 3h-2l-3 -3v-2z"/>
<path d="M598.5 347.5h2l3 3v2l-3 3h-2l-3 -3v-2z"/>
<path d="M493.5 385.5h2l3 3v2l-3 3h-2l-3 -3v-2z"/>
<path d="M531.5 385.5h2l3 3v2l-3 3h-2l-3 -3v-2z"/>
<path d="M560.5 385.5h2l3 3v2l-3 3h-2l-3 -3v-2z"/>
<path d="M598.5 366.5h2l3 3v2l-3 3h-2l-3 -3v-2z"/>
<path d="M598.5 385.5h2l3 3v2l-3 3h-2l-3 -3v-2z"/>
<path d="M493.5 423.5h2l3 3v2l-3 3h-2l-3 -3v-2z"/>
<path d="M531.5 423.5h2l3 3v2l-3 3h-2l-3 -3v-2z"/>
<path d="M560.5 423.5h2l3 3v2l-3 3h-2l-3 -3v-2z"/>
<path d="M598.5 404.5h2l3 3v2l-3 3h-2l-3 -3v-2z"/>
<path d="M598.5 423.5h2l3 3v2l-3 3h-2l-3 -3v-2z"/>
<path d="M627.5 347.5h2l3 3v2l-3 3h-2l-3 -3v-2z"/>
<path d="M627.5 385.5h2l3 3v2l-3 3h-2l-3 -3v-2z"/>
<path d="M675.5 356.5h2l3 3v2l-3 3h-2l-3 -3v-2z"/>
<path d="M675.5 375.5h2l3 3v2l-3 3h-2l-3 -3v-2z"/>
<path d="M675.5 395.5h2l3 3v2l-3 3h-2l-3 -3v-2z"/>
<path d="M742.5 375.5h2l3 3v2l-3 3h-2l-3 -3v-2z"/>
<path d="M387.5 49.5h2l3 3v2l-3 3h-2l-3 -3v-2z"/>
<path d="M426.5 49.5h2l3 3v2l-3 3h-2l-3 -3v-2z"/>
<path d="M406.5 69.5h2l3 3v2l-3 3h-2l-3 -3v-2z"/>
<path d="M454.5 49.5h2l3 3v2l-3 3h-2l-3 -3v-2z"/>
<path d="M493.5 49.5h2l3 3v2l-3 3h-2l-3 -3v-2z"/>
<path d="M474.5 69.5h2l3 3v2l-3 3h-2l-3 -3v-2z"/>
<path d="M512.5 49.5h2l3 3v2l-3 3h-2l-3 -3v-2z"/>
<path d="M550.5 49.5h2l3 3v2l-3 3h-2l-3 -3v-2z"/>
<path d="M531.5 69.5h2l3 3v2l-3 3h-2l-3 -3v-2z"/>
<path d="M435.5 49.5h2l3 3v2l-3 3h-2l-3 -3v-2z"/>
<path d="M502.5 49.5h2l3 3v2l-3 3h-2l-3 -3v-2z"/>
<path d="M406.5 155.5h2l3 3v2l-3 3h-2l-3 -3v-2z"/>
<path d="M406.5 164.5h2l3 3v2l-3 3h-2l-3 -3v-2z"/>
<path d="M445.5 155.5h2l3 3v2l-3 3h-2l-3 -3v-2z"/>
<path d="M445.5 164.5h2l3 3v2l-3 3h-2l-3 -3v-2z"/>
<path d="M579.5 78.5h2l3 3v2l-3 3h-2l-3 -3v-2z"/>
<path d="M579.5 97.5h2l3 3v2l-3 3h-2l-3 -3v-2z"/>
<path d="M618.5 88.5h2l3 3v2l-3 3h-2l-3 -3v-2z"/>
<path d="M694.5 49.5h2l3 3v2l-3 3h-2l-3 -3v-2z"/>
<path d="M694.5 59.5h2l3 3v2l-3 3h-2l-3 -3v-2z"/>
<path d="M733.5 49.5h2l3 3v2l-3 3h-2l-3 -3v-2z"/>
<path d="M733.5 59.5h2l3 3v2l-3 3h-2l-3 -3v-2z"/>
<path d="M742.5 88.5h2l3 3v2l-3 3h-2l-3 -3v-2z"/>
<path d="M781.5 88.5h2l3 3v2l-3 3h-2l-3 -3v-2z"/>
<path d="M819.5 88.5h2l3 3v2l-3 3h-2l-3 -3v-2z"/>
<path d="M848.5 88.5h2l3 3v2l-3 3h-2l-3 -3v-2z"/>
<path d="M694.5 136.5h2l3 3v2l-3 3h-2l-3 -3v-2z"/>
<path d="M694.5 145.5h2l3 3v2l-3 3h-2l-3 -3v-2z"/>
<path d="M733.5 136.5h2l3 3v2l-3 3h-2l-3 -3v-2z"/>
<path d="M733.5 145.5h2l3 3v2l-3 3h-2l-3 -3v-2z"/>
<path d="M742.5 164.5h2l3 3v2l-3 3h-2l-3 -3v-2z"/>
<path d="M781.5 164.5h2l3 3v2l-3 3h-2l-3 -3v-2z"/>
<path d="M819.5 164.5h2l3 3v2l-3 3h-2l-3 -3v-2z"/>
<path d="M848.5 164.5h2l3 3v2l-3 3h-2l-3 -3v-2z"/>
<path d="M694.5 203.5h2l3 3v2l-3 3h-2l-3 -3v-2z"/>
<path d="M694.5 212.5h2l3 3v2l-3 3h-2l-3 -3v-2z"/>
<path d="M733.5 203.5h2l3 3v2l-3 3h-2l-3 -3v-2z"/>
<path d="M733.5 212.5h2l3 3v2l-3 3h-2l-3 -3v-2z"/>
<path d="M742.5 232.5h2l3 3v2l-3 3h-2l-3 -3v-2z"/>
<path d="M781.5 232.5h2l3 3v2l-3 3h-2l-3 -3v-2z"/>
<path d="M819.5 232.5h2l3 3v2l-3 3h-2l-3 -3v-2z"/>
<path d="M848.5 232.5h2l3 3v2l-3 3h-2l-3 -3v-2z"/>
</g>
<path fill="#47a447" d="M120 69h1v1h-1zM121 70h1v1h-1zM123 69h1v1h-1zM125 69h1v1h-1zM120 88h1v1h-1zM121 89h1v1h-1zM123 88h1v1h-1zM125 88h1v1h-1zM120 97h1v1h-1zM121 98h1v1h-1zM123 97h1v1h-1zM125 97h1v1h-1zM120 107h1v1h-1zM121 108h1v1h-1zM123 107h1v1h-1zM125 107h1v1h-1zM120 136h1v1h-1zM121 137h1v1h-1zM123 136h1v1h-1zM125 136h1v1h-1zM120 155h1v1h-1zM121 156h1v1h-1zM123 155h1v1h-1zM125 155h1v1h-1zM120 184h1v1h-1zM121 185h1v1h-1zM123 184h1v1h-1zM125 184h1v1h-1zM120 203h1v1h-1zM121 204h1v1h-1zM123 203h1v1h-1zM125 203h1v1h-1zM346 68h1v1h-1zM346 70h1v1h-1zM346 77h1v1h-1zM346 79h1v1h-1zM346 87h1v1h-1zM346 89h1v1h-1zM346 96h1v1h-1zM346 98h1v1h-1zM346 106h1v1h-1zM346 108h1v1h-1zM346 115h1v1h-1zM346 117h1v1h-1zM346 163h1v1h-1zM346 165h1v1h-1zM346 173h1v1h-1zM346 175h1v1h-1zM346 183h1v1h-1zM346 185h1v1h-1zM346 192h1v1h-1zM346 194h1v1h-1zM346 202h1v1h-1zM346 204h1v1h-1zM346 211h1v1h-1zM346 213h1v1h-1zM346 221h1v1h-1zM346 223h1v1h-1zM346 231h1v1h-1zM346 233h1v1h-1zM346 250h1v1h-1zM346 252h1v1h-1zM346 259h1v1h-1zM346 261h1v1h-1zM346 269h1v1h-1zM346 271h1v1h-1zM346 279h1v1h-1zM346 281h1v1h-1zM346 288h1v1h-1zM346 290h1v1h-1zM346 298h1v1h-1zM346 300h1v1h-1zM81 40h1v1h-1zM82 41h1v1h-1zM84 40h1v1h-1zM86 40h1v1h-1zM81 49h1v1h-1zM82 50h1v1h-1zM84 49h1v1h-1zM86 49h1v1h-1zM135 40h1v1h-1zM137 40h1v1h-1zM139 40h1v1h-1zM135 49h1v1h-1zM137 49h1v1h-1zM139 49h1v1h-1zM43 69h1v1h-1zM44 70h1v1h-1zM46 69h1v1h-1zM48 69h1v1h-1zM96 69h1v1h-1zM98 69h1v1h-1zM100 69h1v1h-1zM24 126h1v1h-1zM25 127h1v1h-1zM27 126h1v1h-1zM29 126h1v1h-1zM68 126h1v1h-1zM70 126h1v1h-1zM72 126h1v1h-1zM24 164h1v1h-1zM25 165h1v1h-1zM27 164h1v1h-1zM29 164h1v1h-1zM68 164h1v1h-1zM70 164h1v1h-1zM72 164h1v1h-1zM79 121h1v1h-1zM78 122h1v1h-1zM78 123h1v1h-1zM79 124h1v1h-1zM79 174h1v1h-1zM78 175h1v1h-1zM78 176h1v1h-1zM79 177h1v1h-1zM139 337h1v1h-1zM140 338h1v1h-1zM142 337h1v1h-1zM144 337h1v1h-1zM183 337h1v1h-1zM185 337h1v1h-1zM187 337h1v1h-1zM108 342h1v1h-1zM107 343h1v1h-1zM107 344h1v1h-1zM108 345h1v1h-1zM108 433h1v1h-1zM107 434h1v1h-1zM107 435h1v1h-1zM108 436h1v1h-1zM144 385h1v1h-1zM146 385h1v1h-1zM148 385h1v1h-1zM139 443h1v1h-1zM140 444h1v1h-1zM142 443h1v1h-1zM144 443h1v1h-1zM183 443h1v1h-1zM185 443h1v1h-1zM187 443h1v1h-1zM88 457h1v1h-1zM87 458h1v1h-1zM87 459h1v1h-1zM88 460h1v1h-1zM108 457h1v1h-1zM107 458h1v1h-1zM107 459h1v1h-1zM108 460h1v1h-1zM98 510h1v1h-1zM97 511h1v1h-1zM97 512h1v1h-1zM98 513h1v1h-1zM177 500h1v1h-1zM178 501h1v1h-1zM180 500h1v1h-1zM182 500h1v1h-1zM177 510h1v1h-1zM178 511h1v1h-1zM180 510h1v1h-1zM182 510h1v1h-1zM220 494h1v1h-1zM222 494h1v1h-1zM222 496h1v1h-1zM222 497h1v1h-1zM222 499h1v1h-1zM222 500h1v1h-1zM360 347h1v1h-1zM361 348h1v1h-1zM363 347h1v1h-1zM365 347h1v1h-1zM360 356h1v1h-1zM361 357h1v1h-1zM363 356h1v1h-1zM365 356h1v1h-1zM413 347h1v1h-1zM415 347h1v1h-1zM417 347h1v1h-1zM413 356h1v1h-1zM415 356h1v1h-1zM417 356h1v1h-1zM360 404h1v1h-1zM361 405h1v1h-1zM363 404h1v1h-1zM365 404h1v1h-1zM360 414h1v1h-1zM361 415h1v1h-1zM363 414h1v1h-1zM365 414h1v1h-1zM413 404h1v1h-1zM415 404h1v1h-1zM417 404h1v1h-1zM413 414h1v1h-1zM415 414h1v1h-1zM417 414h1v1h-1zM494 280h1v1h-1zM495 281h1v1h-1zM497 280h1v1h-1zM499 280h1v1h-1zM494 289h1v1h-1zM495 290h1v1h-1zM497 289h1v1h-1zM499 289h1v1h-1zM548 280h1v1h-1zM550 280h1v1h-1zM552 280h1v1h-1zM548 289h1v1h-1zM550 289h1v1h-1zM552 289h1v1h-1zM485 347h1v1h-1zM486 348h1v1h-1zM488 347h1v1h-1zM490 347h1v1h-1zM538 347h1v1h-1zM540 347h1v1h-1zM542 347h1v1h-1zM552 347h1v1h-1zM553 348h1v1h-1zM555 347h1v1h-1zM557 347h1v1h-1zM605 327h1v1h-1zM607 327h1v1h-1zM609 327h1v1h-1zM605 347h1v1h-1zM607 347h1v1h-1zM609 347h1v1h-1zM485 385h1v1h-1zM486 386h1v1h-1zM488 385h1v1h-1zM490 385h1v1h-1zM538 385h1v1h-1zM540 385h1v1h-1zM542 385h1v1h-1zM552 385h1v1h-1zM553 386h1v1h-1zM555 385h1v1h-1zM557 385h1v1h-1zM605 366h1v1h-1zM607 366h1v1h-1zM609 366h1v1h-1zM605 385h1v1h-1zM607 385h1v1h-1zM609 385h1v1h-1zM485 423h1v1h-1zM486 424h1v1h-1zM488 423h1v1h-1zM490 423h1v1h-1zM538 423h1v1h-1zM540 423h1v1h-1zM542 423h1v1h-1zM552 423h1v1h-1zM553 424h1v1h-1zM555 423h1v1h-1zM557 423h1v1h-1zM605 404h1v1h-1zM607 404h1v1h-1zM609 404h1v1h-1zM605 423h1v1h-1zM607 423h1v1h-1zM609 423h1v1h-1zM623 341h1v1h-1zM625 341h1v1h-1zM625 343h1v1h-1zM625 344h1v1h-1zM625 346h1v1h-1zM625 347h1v1h-1zM623 379h1v1h-1zM625 379h1v1h-1zM625 381h1v1h-1zM625 382h1v1h-1zM625 384h1v1h-1zM625 385h1v1h-1zM667 356h1v1h-1zM668 357h1v1h-1zM670 356h1v1h-1zM672 356h1v1h-1zM667 375h1v1h-1zM668 376h1v1h-1zM670 375h1v1h-1zM672 375h1v1h-1zM667 395h1v1h-1zM668 396h1v1h-1zM670 395h1v1h-1zM672 395h1v1h-1zM749 374h1v1h-1zM749 376h1v1h-1zM379 49h1v1h-1zM380 50h1v1h-1zM382 49h1v1h-1zM384 49h1v1h-1zM433 49h1v1h-1zM435 49h1v1h-1zM437 49h1v1h-1zM405 78h1v1h-1zM405 79h1v1h-1zM404 81h1v1h-1zM404 82h1v1h-1zM446 49h1v1h-1zM447 50h1v1h-1zM449 49h1v1h-1zM451 49h1v1h-1zM500 49h1v1h-1zM502 49h1v1h-1zM504 49h1v1h-1zM473 78h1v1h-1zM473 79h1v1h-1zM472 81h1v1h-1zM472 82h1v1h-1zM504 49h1v1h-1zM505 50h1v1h-1zM507 49h1v1h-1zM509 49h1v1h-1zM557 49h1v1h-1zM559 49h1v1h-1zM561 49h1v1h-1zM530 78h1v1h-1zM530 79h1v1h-1zM529 81h1v1h-1zM529 82h1v1h-1zM431 43h1v1h-1zM433 43h1v1h-1zM433 45h1v1h-1zM433 46h1v1h-1zM433 48h1v1h-1zM433 49h1v1h-1zM498 43h1v1h-1zM500 43h1v1h-1zM500 45h1v1h-1zM500 46h1v1h-1zM500 48h1v1h-1zM500 49h1v1h-1zM398 155h1v1h-1zM399 156h1v1h-1zM401 155h1v1h-1zM403 155h1v1h-1zM398 164h1v1h-1zM399 165h1v1h-1zM401 164h1v1h-1zM403 164h1v1h-1zM452 155h1v1h-1zM454 155h1v1h-1zM456 155h1v1h-1zM452 164h1v1h-1zM454 164h1v1h-1zM456 164h1v1h-1zM571 78h1v1h-1zM572 79h1v1h-1zM574 78h1v1h-1zM576 78h1v1h-1zM571 97h1v1h-1zM572 98h1v1h-1zM574 97h1v1h-1zM576 97h1v1h-1zM625 88h1v1h-1zM627 88h1v1h-1zM629 88h1v1h-1zM686 49h1v1h-1zM687 50h1v1h-1zM689 49h1v1h-1zM691 49h1v1h-1zM686 59h1v1h-1zM687 60h1v1h-1zM689 59h1v1h-1zM691 59h1v1h-1zM740 49h1v1h-1zM742 49h1v1h-1zM744 49h1v1h-1zM740 59h1v1h-1zM742 59h1v1h-1zM744 59h1v1h-1zM734 88h1v1h-1zM735 89h1v1h-1zM737 88h1v1h-1zM739 88h1v1h-1zM788 88h1v1h-1zM790 88h1v1h-1zM792 88h1v1h-1zM811 88h1v1h-1zM812 89h1v1h-1zM814 88h1v1h-1zM816 88h1v1h-1zM855 88h1v1h-1zM857 88h1v1h-1zM859 88h1v1h-1zM686 136h1v1h-1zM687 137h1v1h-1zM689 136h1v1h-1zM691 136h1v1h-1zM686 145h1v1h-1zM687 146h1v1h-1zM689 145h1v1h-1zM691 145h1v1h-1zM740 136h1v1h-1zM742 136h1v1h-1zM744 136h1v1h-1zM740 145h1v1h-1zM742 145h1v1h-1zM744 145h1v1h-1zM734 164h1v1h-1zM735 165h1v1h-1zM737 164h1v1h-1zM739 164h1v1h-1zM788 164h1v1h-1zM790 164h1v1h-1zM792 164h1v1h-1zM811 164h1v1h-1zM812 165h1v1h-1zM814 164h1v1h-1zM816 164h1v1h-1zM855 164h1v1h-1zM857 164h1v1h-1zM859 164h1v1h-1zM686 203h1v1h-1zM687 204h1v1h-1zM689 203h1v1h-1zM691 203h1v1h-1zM686 212h1v1h-1zM687 213h1v1h-1zM689 212h1v1h-1zM691 212h1v1h-1zM740 203h1v1h-1zM742 203h1v1h-1zM744 203h1v1h-1zM740 212h1v1h-1zM742 212h1v1h-1zM744 212h1v1h-1zM734 232h1v1h-1zM735 233h1v1h-1zM737 232h1v1h-1zM739 232h1v1h-1zM788 232h1v1h-1zM790 232h1v1h-1zM792 232h1v1h-1zM811 232h1v1h-1zM812 233h1v1h-1zM814 232h1v1h-1zM816 232h1v1h-1zM855 232h1v1h-1zM857 232h1v1h-1zM859 232h1v1h-1z"/>
<path fill="#4ca64c" d="M3 71h3v1h1v3h-1v1h-3v-1h-1v-3h1zM109 339h3v1h1v3h-1v1h-3v-1h-1v-3h1zM128 339h3v1h1v3h-1v1h-3v-1h-1v-3h1zM368 3h3v1h1v3h-1v1h-3v-1h-1v-3h1zM454 3h3v1h1v3h-1v1h-3v-1h-1v-3h1zM512 3h3v1h1v3h-1v1h-3v-1h-1v-3h1zM13 90h3v1h1v3h-1v1h-3v-1h-1v-3h1zM13 128h3v1h1v3h-1v1h-3v-1h-1v-3h1zM13 166h3v1h1v3h-1v1h-3v-1h-1v-3h1zM13 186h3v1h1v3h-1v1h-3v-1h-1v-3h1zM128 71h3v1h1v3h-1v1h-3v-1h-1v-3h1zM80 128h3v1h1v3h-1v1h-3v-1h-1v-3h1zM80 166h3v1h1v3h-1v1h-3v-1h-1v-3h1zM176 387h3v1h1v3h-1v1h-3v-1h-1v-3h1zM109 445h3v1h1v3h-1v1h-3v-1h-1v-3h1zM224 473h3v1h1v3h-1v1h-3v-1h-1v-3h1zM598 473h3v1h1v3h-1v1h-3v-1h-1v-3h1zM224 387h3v1h1v3h-1v1h-3v-1h-1v-3h1zM858 90h3v1h1v3h-1v1h-3v-1h-1v-3h1zM858 166h3v1h1v3h-1v1h-3v-1h-1v-3h1zM858 234h3v1h1v3h-1v1h-3v-1h-1v-3h1zM858 291h3v1h1v3h-1v1h-3v-1h-1v-3h1zM637 51h3v1h1v3h-1v1h-3v-1h-1v-3h1zM637 90h3v1h1v3h-1v1h-3v-1h-1v-3h1z"/>
</g>
</svg></body></html>
